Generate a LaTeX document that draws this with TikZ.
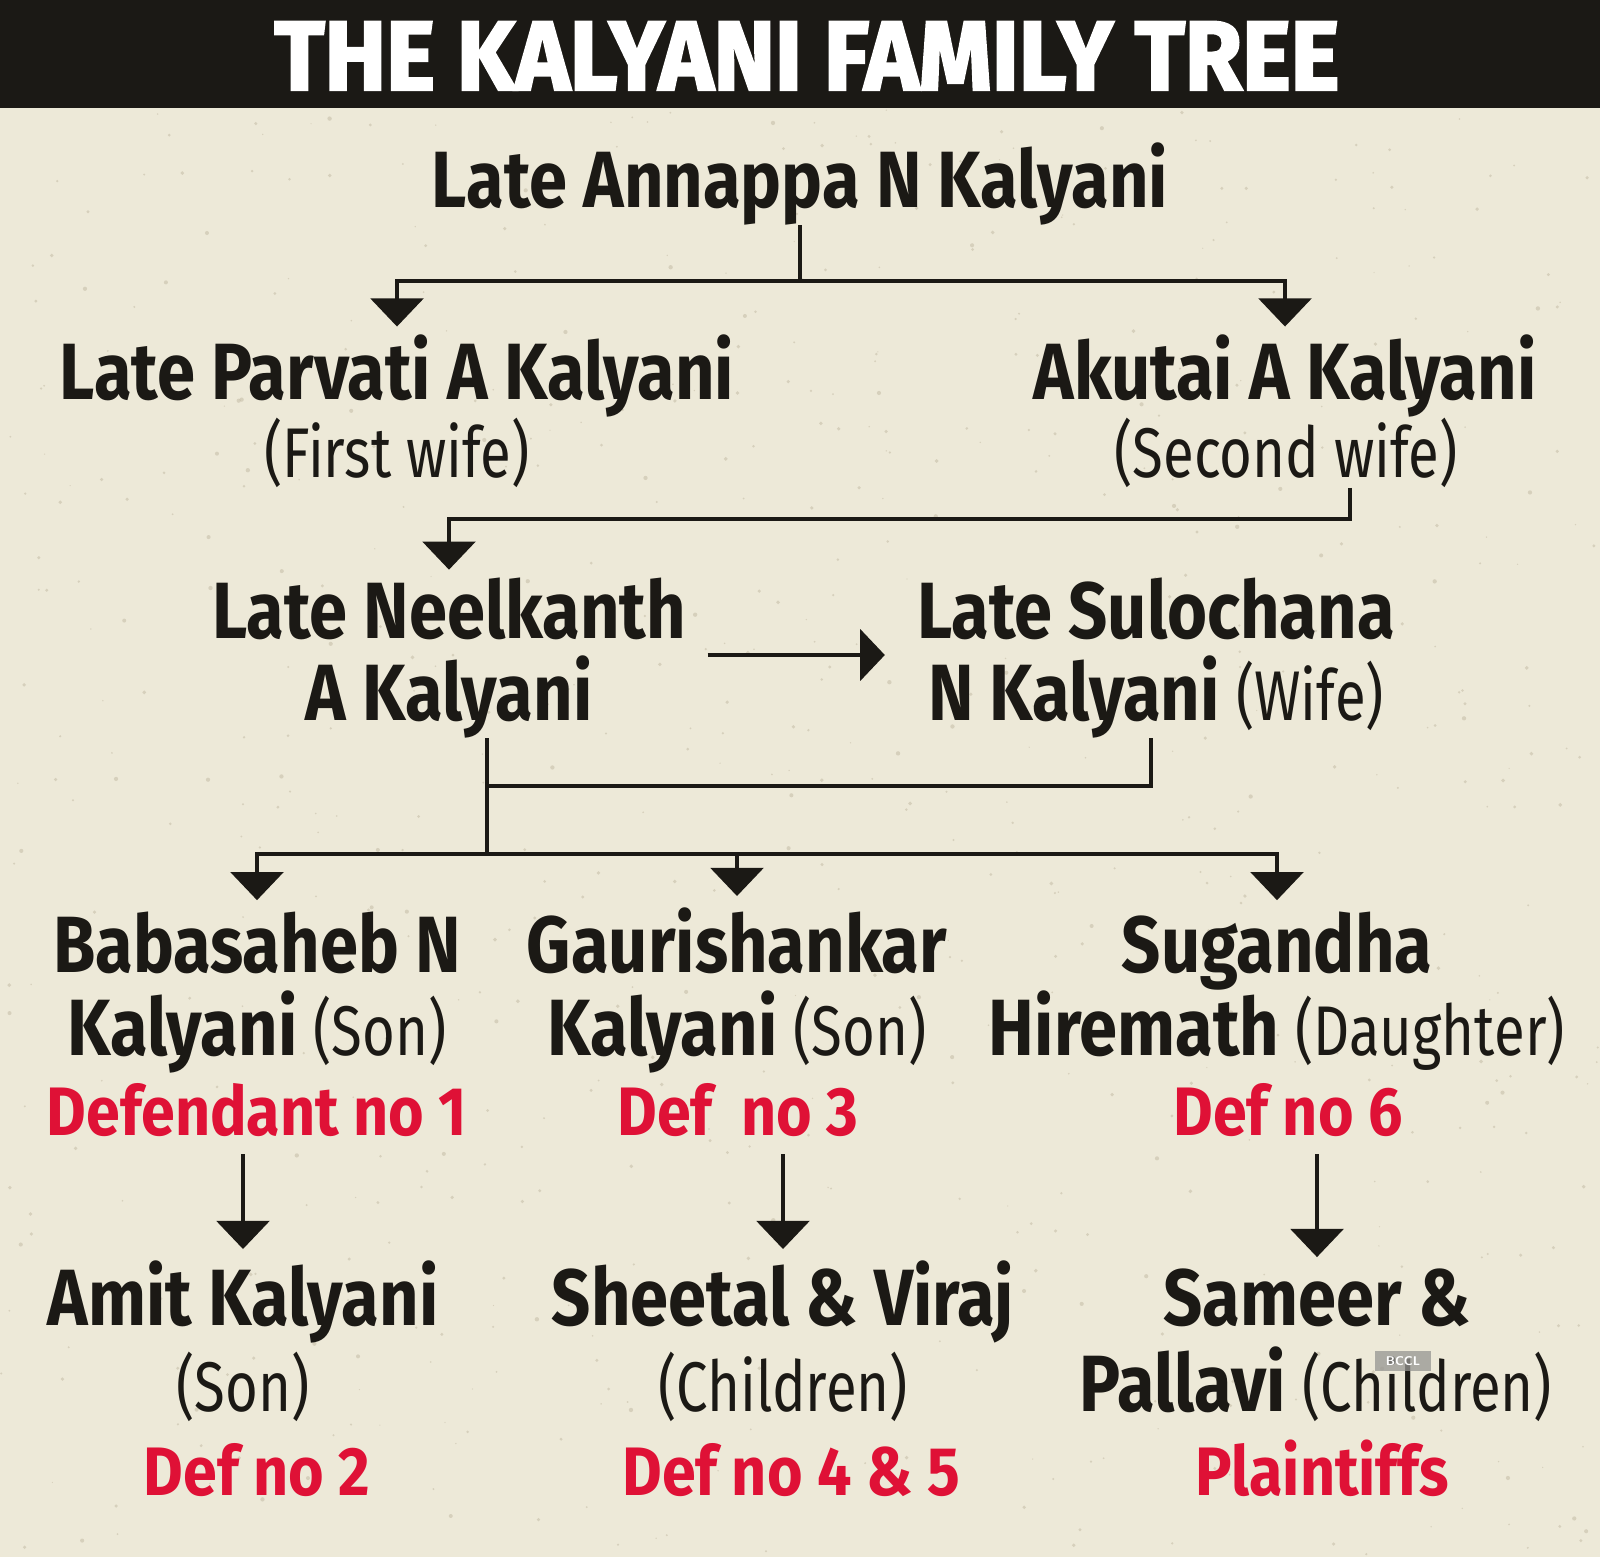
\documentclass[tikz,border=0pt]{standalone}
\usepackage{fontspec}
\usepackage{tikz}
\usetikzlibrary{arrows.meta}

\setmainfont{Fira Sans}
\newfontfamily\treefont{Fira Sans}[FakeStretch=0.86]
\newfontfamily\notefont{Fira Sans}[FakeStretch=0.8]
\newfontfamily\courtfont{Fira Sans}[FakeStretch=0.89]
\newfontfamily\titlefont{Fira Sans}[FakeStretch=0.94,FakeBold=2.5]

\definecolor{paper}{RGB}{237,233,216}
\definecolor{speck}{RGB}{196,188,165}
\definecolor{ink}{RGB}{27,25,21}
\definecolor{defred}{RGB}{223,17,54}
\definecolor{markgray}{RGB}{150,150,146}

\newcommand{\relnote}[1]{{\notefont\mdseries\fontsize{20}{24}\selectfont #1}}

\tikzset{
  person/.style={anchor=base, inner sep=0pt, text=ink, font=\treefont\bfseries\fontsize{22.7}{27}\selectfont},
  remark/.style={anchor=base, inner sep=0pt, text=ink, font=\notefont\fontsize{20}{24}\selectfont},
  court/.style={anchor=base, inner sep=0pt, text=defred, font=\courtfont\bfseries\fontsize{19.5}{23}\selectfont},
  link/.style={draw=ink, line width=1pt},
  down/.style={link, -{Triangle[width=15pt,length=8pt]}},
  side/.style={link, line width=1.2pt, -{Triangle[width=14.5pt,length=7pt]}},
  watermark/.style={fill=markgray, fill opacity=0.75, text opacity=1, text=white, inner xsep=3pt, inner ysep=1.5pt, font=\sffamily\bfseries\fontsize{3.6}{4}\selectfont},
}

\begin{document}
\begin{tikzpicture}[x=0.01cm,y=-0.01cm]
 \useasboundingbox (0,0) rectangle (1600,1557);
 \fill[paper] (0,0) rectangle (1600,1557);
 % paper grain
 \pgfmathsetseed{11}
 \foreach \i in {1,...,700}{
   \pgfmathsetmacro{\gx}{rnd*1600}
   \pgfmathsetmacro{\gy}{110+rnd*1445}
   \pgfmathsetmacro{\gr}{0.6+rnd*1.6}
   \fill[speck, opacity=0.55] (\gx,\gy) circle (\gr);
 }
 \fill[ink] (0,0) rectangle (1600,108);
 \draw (807,90) node[anchor=base, inner sep=0pt, text=white, font=\titlefont\bfseries\fontsize{28}{32}\selectfont] (title) {THE KALYANI FAMILY TREE};

 % first generation
 \draw (800,207) node[person] (annappa) {Late Annappa N Kalyani};
 \draw (397,399) node[person] (parvati) {Late Parvati A Kalyani};
 \draw (397,477) node[remark] (parvati2) {(First wife)};
 \draw (1285,399) node[person] (akutai) {Akutai A Kalyani};
 \draw (1286,477) node[remark] (akutai2) {(Second wife)};

 % second generation
 \draw (449,638) node[person] (neel) {Late Neelkanth};
 \draw (449,720) node[person] (neel2) {A Kalyani};
 \draw (1156,638) node[person] (sul) {Late Sulochana};
 \draw (1156,720) node[person] (sul2) {N Kalyani \relnote{(Wife)}};

 % third generation
 \draw (257,972) node[person] (baba) {Babasaheb N};
 \draw (257,1055) node[person] (baba2) {Kalyani \relnote{(Son)}};
 \draw (257,1135) node[court] (baba3) {Defendant no 1};
 \draw (737,972) node[person] (gauri) {Gaurishankar};
 \draw (737,1055) node[person] (gauri2) {Kalyani \relnote{(Son)}};
 \draw (738,1135) node[court] (gauri3) {Def\ \ no 3};
 \draw (1277,972) node[person] (sug) {Sugandha};
 \draw (1277,1055) node[person] (sug2) {Hiremath \relnote{(Daughter)}};
 \draw (1288,1135) node[court] (sug3) {Def no 6};

 % fourth generation
 \draw (243,1325) node[person] (amit) {Amit Kalyani};
 \draw (243,1411) node[remark] (amit2) {(Son)};
 \draw (257,1495) node[court] (amit3) {Def no 2};
 \draw (783,1325) node[person] (sheetal) {Sheetal \& Viraj};
 \draw (783,1411) node[remark] (sheetal2) {(Children)};
 \draw (791,1495) node[court] (sheetal3) {Def no 4 \& 5};
 \draw (1317,1325) node[person] (sameer) {Sameer \&};
 \draw (1316,1411) node[person] (sameer2) {Pallavi \relnote{(Children)}};
 \draw (1322,1495) node[court] (sameer3) {Plaintiffs};

 \draw (1403,1361) node[watermark] (bccl) {BCCL};

 \coordinate (wivesbar) at (0,281);
 \coordinate (secondbar) at (0,519);
 \coordinate (couple) at (0,655);
 \coordinate (wifebar) at (0,786);
 \coordinate (kidsbar) at (0,854);

 \draw[link] (annappa.south) -- (annappa.south |- wivesbar);
 \draw[down, shorten >=2pt] (annappa.south |- wivesbar) -| (parvati.north);
 \draw[down, shorten >=2pt] (annappa.south |- wivesbar) -| (akutai.north);

 \draw[down, shorten >=2pt] ([xshift=0.64cm]akutai2.south) |- (neel.north |- secondbar) -- (neel.north);
 \draw[side, shorten <=6pt, shorten >=9pt] (neel.east |- couple) -- (sul.west |- couple);

 \draw[link] ([xshift=-0.05cm]sul2.south) |- ([xshift=0.38cm]neel2.south |- wifebar);
 \draw[link] ([xshift=0.38cm]neel2.south) -- ([xshift=0.38cm]neel2.south |- kidsbar);
 \draw[down, shorten >=3pt] ([xshift=0.38cm]neel2.south |- kidsbar) -| (baba.north);
 \draw[down, shorten >=3pt] ([xshift=0.38cm]neel2.south |- kidsbar) -| (gauri.north);
 \draw[down, shorten >=3pt] ([xshift=0.38cm]neel2.south |- kidsbar) -| (sug.north);

 \draw[down, shorten <=5pt, shorten >=3pt] (amit.north |- baba3.south) -- (amit.north);
 \draw[down, shorten <=5pt, shorten >=3pt] (sheetal.north |- gauri3.south) -- (sheetal.north);
 \draw[down, shorten <=5pt, shorten >=3pt] (sameer.north |- sug3.south) -- (sameer.north);
\end{tikzpicture}
\end{document}
